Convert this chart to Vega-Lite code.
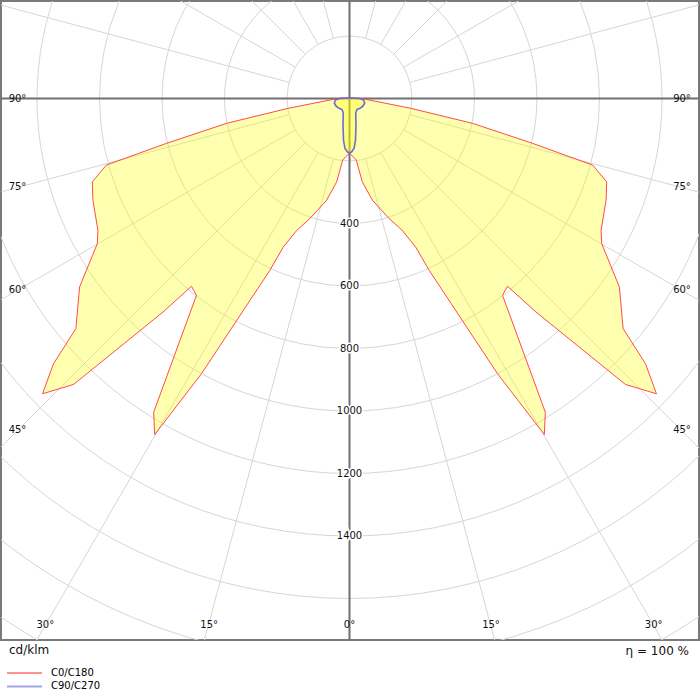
{
  "$schema": "https://vega.github.io/schema/vega-lite/v6.json",
  "width": 698,
  "height": 639,
  "autosize": {"type": "none"},
  "padding": {"left": 1, "top": 1, "right": 1, "bottom": 60},
  "background": "white",
  "config": {
    "view": {"stroke": "#7a7a7a", "strokeWidth": 2},
    "text": {"font": "DejaVu Sans"}
  },
  "data": {"values": [{}]},
  "datasets": {
    "rings": [{"r": 200}, {"r": 400}, {"r": 600}, {"r": 800}, {"r": 1000}, {"r": 1200}, {"r": 1400}, {"r": 1600}, {"r": 1800}, {"r": 2000}],
    "spokes": [
      {"x": 51.76, "y": -193.19, "x2": 776.46, "y2": -2897.78},
      {"x": 100, "y": -173.21, "x2": 1500, "y2": -2598.08},
      {"x": 141.42, "y": -141.42, "x2": 2121.32, "y2": -2121.32},
      {"x": 173.21, "y": -100, "x2": 2598.08, "y2": -1500},
      {"x": 193.19, "y": -51.76, "x2": 2897.78, "y2": -776.46},
      {"x": -51.76, "y": -193.19, "x2": -776.46, "y2": -2897.78},
      {"x": -100, "y": -173.21, "x2": -1500, "y2": -2598.08},
      {"x": -141.42, "y": -141.42, "x2": -2121.32, "y2": -2121.32},
      {"x": -173.21, "y": -100, "x2": -2598.08, "y2": -1500},
      {"x": -193.19, "y": -51.76, "x2": -2897.78, "y2": -776.46},
      {"x": 51.76, "y": 193.19, "x2": 776.46, "y2": 2897.78},
      {"x": 100, "y": 173.21, "x2": 1500, "y2": 2598.08},
      {"x": 141.42, "y": 141.42, "x2": 2121.32, "y2": 2121.32},
      {"x": 173.21, "y": 100, "x2": 2598.08, "y2": 1500},
      {"x": 193.19, "y": 51.76, "x2": 2897.78, "y2": 776.46},
      {"x": -51.76, "y": 193.19, "x2": -776.46, "y2": 2897.78},
      {"x": -100, "y": 173.21, "x2": -1500, "y2": 2598.08},
      {"x": -141.42, "y": 141.42, "x2": -2121.32, "y2": 2121.32},
      {"x": -173.21, "y": 100, "x2": -2598.08, "y2": 1500},
      {"x": -193.19, "y": 51.76, "x2": -2897.78, "y2": 776.46}
    ],
    "c0": [
      {"c": "C0/C180", "i": 0, "x": 0, "y": 0},
      {"c": "C0/C180", "i": 1, "x": -51.9, "y": -2.6},
      {"c": "C0/C180", "i": 2, "x": -196.1, "y": -31.4},
      {"c": "C0/C180", "i": 3, "x": -393.6, "y": -79.5},
      {"c": "C0/C180", "i": 4, "x": -585.9, "y": -143.6},
      {"c": "C0/C180", "i": 5, "x": -778.2, "y": -213.1},
      {"c": "C0/C180", "i": 6, "x": -823.0, "y": -266.7},
      {"c": "C0/C180", "i": 7, "x": -821.1, "y": -325.3},
      {"c": "C0/C180", "i": 8, "x": -805.1, "y": -421.5},
      {"c": "C0/C180", "i": 9, "x": -807.0, "y": -464.1},
      {"c": "C0/C180", "i": 10, "x": -863.7, "y": -603.2},
      {"c": "C0/C180", "i": 11, "x": -875.6, "y": -736.5},
      {"c": "C0/C180", "i": 12, "x": -947.1, "y": -848.7},
      {"c": "C0/C180", "i": 13, "x": -982.3, "y": -944.8},
      {"c": "C0/C180", "i": 14, "x": -883.0, "y": -915.0},
      {"c": "C0/C180", "i": 15, "x": -596.8, "y": -683.3},
      {"c": "C0/C180", "i": 16, "x": -505.7, "y": -600.9},
      {"c": "C0/C180", "i": 17, "x": -489.7, "y": -629.8},
      {"c": "C0/C180", "i": 18, "x": -626.6, "y": -1003.8},
      {"c": "C0/C180", "i": 19, "x": -623.4, "y": -1075.3},
      {"c": "C0/C180", "i": 20, "x": -473.7, "y": -880.7},
      {"c": "C0/C180", "i": 21, "x": -254.8, "y": -549.7},
      {"c": "C0/C180", "i": 22, "x": -212.2, "y": -475.9},
      {"c": "C0/C180", "i": 23, "x": -168.3, "y": -421.5},
      {"c": "C0/C180", "i": 24, "x": -126.6, "y": -384.0},
      {"c": "C0/C180", "i": 25, "x": -73.1, "y": -325.3},
      {"c": "C0/C180", "i": 26, "x": -41.0, "y": -266.7},
      {"c": "C0/C180", "i": 27, "x": -21.8, "y": -197.1},
      {"c": "C0/C180", "i": 28, "x": 0, "y": -174},
      {"c": "C0/C180", "i": 29, "x": 21.8, "y": -197.1},
      {"c": "C0/C180", "i": 30, "x": 41.0, "y": -266.7},
      {"c": "C0/C180", "i": 31, "x": 73.1, "y": -325.3},
      {"c": "C0/C180", "i": 32, "x": 126.6, "y": -384.0},
      {"c": "C0/C180", "i": 33, "x": 168.3, "y": -421.5},
      {"c": "C0/C180", "i": 34, "x": 212.2, "y": -475.9},
      {"c": "C0/C180", "i": 35, "x": 254.8, "y": -549.7},
      {"c": "C0/C180", "i": 36, "x": 473.7, "y": -880.7},
      {"c": "C0/C180", "i": 37, "x": 623.4, "y": -1075.3},
      {"c": "C0/C180", "i": 38, "x": 626.6, "y": -1003.8},
      {"c": "C0/C180", "i": 39, "x": 489.7, "y": -629.8},
      {"c": "C0/C180", "i": 40, "x": 505.7, "y": -600.9},
      {"c": "C0/C180", "i": 41, "x": 596.8, "y": -683.3},
      {"c": "C0/C180", "i": 42, "x": 883.0, "y": -915.0},
      {"c": "C0/C180", "i": 43, "x": 982.3, "y": -944.8},
      {"c": "C0/C180", "i": 44, "x": 947.1, "y": -848.7},
      {"c": "C0/C180", "i": 45, "x": 875.6, "y": -736.5},
      {"c": "C0/C180", "i": 46, "x": 863.7, "y": -603.2},
      {"c": "C0/C180", "i": 47, "x": 807.0, "y": -464.1},
      {"c": "C0/C180", "i": 48, "x": 805.1, "y": -421.5},
      {"c": "C0/C180", "i": 49, "x": 821.1, "y": -325.3},
      {"c": "C0/C180", "i": 50, "x": 823.0, "y": -266.7},
      {"c": "C0/C180", "i": 51, "x": 778.2, "y": -213.1},
      {"c": "C0/C180", "i": 52, "x": 585.9, "y": -143.6},
      {"c": "C0/C180", "i": 53, "x": 393.6, "y": -79.5},
      {"c": "C0/C180", "i": 54, "x": 196.1, "y": -31.4},
      {"c": "C0/C180", "i": 55, "x": 51.9, "y": -2.6},
      {"c": "C0/C180", "i": 56, "x": 0, "y": 0}
    ],
    "c90": [
      {"c": "C90/C270", "i": 0, "x": 0, "y": 2.2},
      {"c": "C90/C270", "i": 1, "x": -30.4, "y": 0.6},
      {"c": "C90/C270", "i": 2, "x": -44.9, "y": -4.8},
      {"c": "C90/C270", "i": 3, "x": -48.7, "y": -14.4},
      {"c": "C90/C270", "i": 4, "x": -43.3, "y": -24.0},
      {"c": "C90/C270", "i": 5, "x": -33.7, "y": -31.4},
      {"c": "C90/C270", "i": 6, "x": -24.0, "y": -35.3},
      {"c": "C90/C270", "i": 7, "x": -19.9, "y": -46.5},
      {"c": "C90/C270", "i": 8, "x": -20.8, "y": -84.9},
      {"c": "C90/C270", "i": 9, "x": -19.2, "y": -133.0},
      {"c": "C90/C270", "i": 10, "x": -14.4, "y": -160.3},
      {"c": "C90/C270", "i": 11, "x": -6.4, "y": -171},
      {"c": "C90/C270", "i": 12, "x": 0, "y": -174},
      {"c": "C90/C270", "i": 13, "x": 6.4, "y": -171},
      {"c": "C90/C270", "i": 14, "x": 14.4, "y": -160.3},
      {"c": "C90/C270", "i": 15, "x": 19.2, "y": -133.0},
      {"c": "C90/C270", "i": 16, "x": 20.8, "y": -84.9},
      {"c": "C90/C270", "i": 17, "x": 19.9, "y": -46.5},
      {"c": "C90/C270", "i": 18, "x": 24.0, "y": -35.3},
      {"c": "C90/C270", "i": 19, "x": 33.7, "y": -31.4},
      {"c": "C90/C270", "i": 20, "x": 43.3, "y": -24.0},
      {"c": "C90/C270", "i": 21, "x": 48.7, "y": -14.4},
      {"c": "C90/C270", "i": 22, "x": 44.9, "y": -4.8},
      {"c": "C90/C270", "i": 23, "x": 30.4, "y": 0.6},
      {"c": "C90/C270", "i": 24, "x": 0, "y": 2.2}
    ],
    "rlabels": [
      {"t": "400", "x": 0, "y": -400},
      {"t": "600", "x": 0, "y": -600},
      {"t": "800", "x": 0, "y": -800},
      {"t": "1000", "x": 0, "y": -1000},
      {"t": "1200", "x": 0, "y": -1200},
      {"t": "1400", "x": 0, "y": -1400}
    ],
    "alabels": [
      {"t": "90°", "x": -1062.4, "y": 0},
      {"t": "75°", "x": -1062.4, "y": -284.2},
      {"t": "60°", "x": -1062.4, "y": -612.8},
      {"t": "45°", "x": -1062.4, "y": -1060.8},
      {"t": "90°", "x": 1064, "y": 0},
      {"t": "75°", "x": 1064, "y": -284.2},
      {"t": "60°", "x": 1064, "y": -612.8},
      {"t": "45°", "x": 1064, "y": -1060.8},
      {"t": "30°", "x": -973.4, "y": -1684.8},
      {"t": "15°", "x": -449, "y": -1684.8},
      {"t": "0°", "x": 0, "y": -1684.8},
      {"t": "15°", "x": 452.8, "y": -1684.8},
      {"t": "30°", "x": 973.4, "y": -1684.8}
    ],
    "unit": [{"t": "cd/klm", "x": -1089.6, "y": -1764.8}],
    "eta": [{"t": "η = 100 %", "x": 1086.4, "y": -1766.8}]
  },
  "layer": [
    {
      "data": {"name": "rings"},
      "mark": {"type": "arc", "filled": false, "fill": "transparent", "stroke": "#d6d6d6", "strokeWidth": 1, "clip": true, "theta": 0, "theta2": 6.2832},
      "encoding": {
        "x": {"datum": 0, "type": "quantitative", "scale": {"domain": [-1115.2, 1118.4], "nice": false, "zero": false}, "axis": null},
        "y": {"datum": 0, "type": "quantitative", "scale": {"domain": [-1732.8, 312], "nice": false, "zero": false}, "axis": null},
        "radius": {"field": "r", "type": "quantitative", "stack": null, "scale": {"type": "linear", "domain": [0, 2000], "range": [0, 625], "zero": true}}
      }
    },
    {
      "data": {"name": "spokes"},
      "mark": {"type": "rule", "color": "#d6d6d6", "strokeWidth": 1, "clip": true},
      "encoding": {
        "x": {"field": "x", "type": "quantitative", "axis": null},
        "y": {"field": "y", "type": "quantitative", "axis": null},
        "x2": {"field": "x2"},
        "y2": {"field": "y2"}
      }
    },
    {
      "mark": {"type": "rule", "color": "#707070", "strokeWidth": 2},
      "encoding": {"y": {"datum": 0, "type": "quantitative", "axis": null}}
    },
    {
      "mark": {"type": "rule", "color": "#707070", "strokeWidth": 2},
      "encoding": {"x": {"datum": 0, "type": "quantitative", "axis": null}}
    },
    {
      "data": {"name": "c0"},
      "mark": {"type": "line", "fill": "#ffff00", "fillOpacity": 0.31, "strokeWidth": 1, "strokeJoin": "round"},
      "encoding": {
        "x": {"field": "x", "type": "quantitative", "axis": null},
        "y": {"field": "y", "type": "quantitative", "axis": null},
        "order": {"field": "i", "type": "quantitative"},
        "color": {"field": "c", "type": "nominal", "scale": {"domain": ["C0/C180", "C90/C270"], "range": ["#ff4a4a", "#6c6cd8"]},
          "legend": {"title": null, "orient": "none", "legendX": 5, "legendY": 666, "symbolType": "stroke", "symbolSize": 1225, "symbolStrokeWidth": 2, "symbolOpacity": 0.6, "clipHeight": 12, "labelFont": "DejaVu Sans", "labelFontSize": 10, "labelColor": "#000000", "padding": 0, "rowPadding": 1.4, "labelOffset": 8}}
      }
    },
    {
      "data": {"name": "c90"},
      "mark": {"type": "line", "fill": "#ffff00", "fillOpacity": 0.31, "strokeWidth": 1.6, "strokeJoin": "round"},
      "encoding": {
        "x": {"field": "x", "type": "quantitative", "axis": null},
        "y": {"field": "y", "type": "quantitative", "axis": null},
        "order": {"field": "i", "type": "quantitative"},
        "color": {"field": "c", "type": "nominal"}
      }
    },
    {
      "data": {"name": "rlabels"},
      "mark": {"type": "text", "fontSize": 10, "align": "center", "baseline": "middle", "stroke": "white", "strokeWidth": 3, "fill": "white"},
      "encoding": {
        "x": {"field": "x", "type": "quantitative", "axis": null},
        "y": {"field": "y", "type": "quantitative", "axis": null},
        "text": {"field": "t"}
      }
    },
    {
      "data": {"name": "rlabels"},
      "mark": {"type": "text", "fontSize": 10, "align": "center", "baseline": "middle", "fill": "#111111"},
      "encoding": {
        "x": {"field": "x", "type": "quantitative", "axis": null},
        "y": {"field": "y", "type": "quantitative", "axis": null},
        "text": {"field": "t"}
      }
    },
    {
      "data": {"name": "alabels"},
      "mark": {"type": "text", "fontSize": 10, "align": "center", "baseline": "middle", "fill": "#111111"},
      "encoding": {
        "x": {"field": "x", "type": "quantitative", "axis": null},
        "y": {"field": "y", "type": "quantitative", "axis": null},
        "text": {"field": "t"}
      }
    },
    {
      "data": {"name": "unit"},
      "mark": {"type": "text", "fontSize": 12, "align": "left", "baseline": "middle", "fill": "#111111"},
      "encoding": {
        "x": {"field": "x", "type": "quantitative", "axis": null},
        "y": {"field": "y", "type": "quantitative", "axis": null},
        "text": {"field": "t"}
      }
    },
    {
      "data": {"name": "eta"},
      "mark": {"type": "text", "fontSize": 12, "align": "right", "baseline": "middle", "fill": "#111111"},
      "encoding": {
        "x": {"field": "x", "type": "quantitative", "axis": null},
        "y": {"field": "y", "type": "quantitative", "axis": null},
        "text": {"field": "t"}
      }
    }
  ]
}
